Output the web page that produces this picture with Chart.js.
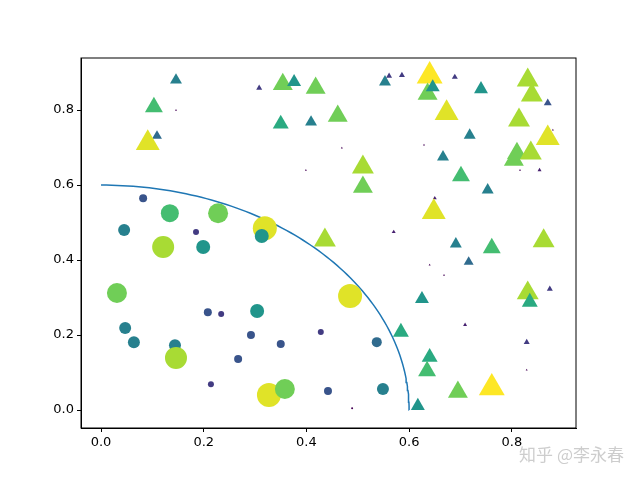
<!DOCTYPE html>
<html><head><meta charset="utf-8">
<script src="https://cdn.jsdelivr.net/npm/chart.js@4/dist/chart.umd.min.js"></script>
<style>body{margin:0;background:#fff}</style></head>
<body><canvas id="c" width="640" height="480"></canvas>
<script>
const circleX=[0.082,0.045,0.134,0.228,0.121,0.199,0.185,0.319,0.313,0.031,0.047,0.064,0.144,0.146,0.208,0.234,0.214,0.267,0.292,0.304,0.35,0.428,0.485,0.442,0.327,0.358,0.537,0.549,0.489];
const circleY=[0.565,0.48,0.525,0.525,0.435,0.435,0.475,0.485,0.464,0.312,0.219,0.181,0.173,0.139,0.261,0.256,0.069,0.136,0.2,0.264,0.176,0.208,0.304,0.051,0.04,0.056,0.181,0.056,0.005];
const circleS=[4,6,9,10,11,7,3,12,7,10,6,6,6,11,4,3,3,4,4,7,4,3,12,4,12,10,5,6,1];
const triX=[0.146,0.103,0.109,0.146,0.091,0.308,0.354,0.376,0.418,0.35,0.409,0.461,0.469,0.399,0.51,0.51,0.553,0.561,0.586,0.64,0.636,0.646,0.673,0.689,0.74,0.718,0.666,0.629,0.65,0.648,0.701,0.753,0.804,0.831,0.839,0.87,0.88,0.814,0.81,0.837,0.87,0.816,0.854,0.57,0.436,0.691,0.716,0.64,0.668,0.761,0.862,0.831,0.835,0.874,0.625,0.584,0.709,0.64,0.635,0.829,0.829,0.617,0.695,0.761];
const triY=[0.88,0.808,0.731,0.8,0.712,0.859,0.869,0.875,0.859,0.763,0.768,0.784,0.699,0.64,0.648,0.595,0.875,0.891,0.893,0.891,0.843,0.861,0.792,0.888,0.856,0.733,0.675,0.707,0.565,0.528,0.624,0.587,0.667,0.88,0.84,0.819,0.747,0.773,0.685,0.685,0.725,0.64,0.64,0.475,0.453,0.443,0.395,0.387,0.36,0.432,0.451,0.312,0.288,0.323,0.296,0.208,0.227,0.141,0.104,0.181,0.107,0.011,0.048,0.059];
const triS=[6,9,5,1,12,3,10,7,10,8,6,10,1,1,11,10,6,3,3,13,10,7,12,3,7,6,6,1,2,12,9,6,10,11,11,4,1,11,10,11,12,1,2,2,11,6,5,1,1,9,11,11,8,3,7,8,2,8,9,3,1,7,10,13];
const arcR=0.6;
const xTicks=[0,0.2,0.4,0.6,0.8], yTicks=[0,0.2,0.4,0.6,0.8];

const vir=[[68,1,84],[72,40,120],[62,74,137],[49,104,142],[38,130,142],[31,158,137],[53,183,121],[109,205,89],[180,222,44],[253,231,37]];
function viridis(t){t=Math.max(0,Math.min(1,t))*(vir.length-1);const i=Math.min(Math.floor(t),vir.length-2),f=t-i;const a=vir[i],b=vir[i+1];return `rgb(${a.map((v,k)=>Math.round(v+(b[k]-v)*f)).join(',')})`;}
const cmin=1,cmax=12.5;
const col=s=>viridis((s-cmin)/(cmax-cmin));
const arc=[];for(let i=0;i<=90;i++){const a=i*Math.PI/180;arc.push({x:arcR*Math.cos(a),y:arcR*Math.sin(a)});}
const font={family:'DejaVu Sans',size:13};
new Chart(document.getElementById('c'),{
 type:'scatter',
 data:{datasets:[
  {data:circleX.map((x,i)=>({x,y:circleY[i]})),pointStyle:'circle',pointRadius:circleS,backgroundColor:circleS.map(col),borderWidth:0},
  {data:triX.map((x,i)=>({x,y:triY[i]})),pointStyle:'triangle',pointRadius:triS.map(s=>s*1.15),backgroundColor:triS.map(col),borderWidth:0},
  {type:'line',data:arc,borderColor:'#1f77b4',borderWidth:1.5,pointRadius:0,fill:false}
 ]},
 options:{animation:false,responsive:false,events:[],
  layout:{padding:{left:0,top:58,right:64,bottom:0}},
  plugins:{legend:{display:false},tooltip:{enabled:false}},
  scales:{
   x:{type:'linear',min:-0.039,max:0.925,afterBuildTicks:a=>{a.ticks=xTicks.map(v=>({value:v}))},afterFit:a=>{a.height=52},
      grid:{drawOnChartArea:false,tickLength:4,color:'#000'},border:{color:'#000'},ticks:{color:'#000',font,callback:v=>v.toFixed(1)}},
   y:{type:'linear',min:-0.048,max:0.939,afterBuildTicks:a=>{a.ticks=yTicks.map(v=>({value:v}))},afterFit:a=>{a.width=81},
      grid:{drawOnChartArea:false,tickLength:4,color:'#000'},border:{color:'#000'},ticks:{color:'#000',font,callback:v=>v.toFixed(1)}}
  }},
 plugins:[{id:'box',afterDraw(ch){const c=ch.ctx,a=ch.chartArea;c.save();c.strokeStyle='#000';c.lineWidth=1;c.strokeRect(a.left,a.top,a.right-a.left,a.bottom-a.top);
  c.font='17px "Noto Sans CJK SC"';c.fillStyle='rgba(200,200,200,0.9)';c.textAlign='right';c.fillText('知乎 @李永春',624,461);c.restore();}}]
});
</script></body></html>
